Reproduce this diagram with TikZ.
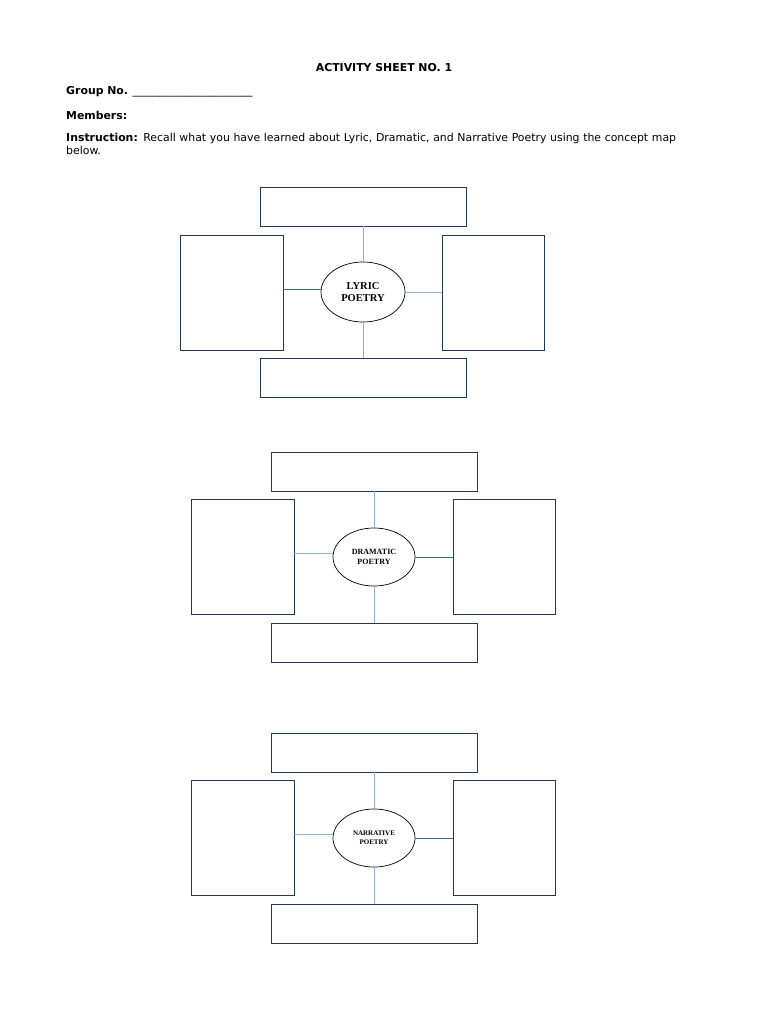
\documentclass[tikz,border=0pt]{standalone}
\usepackage{fontspec}
\setmainfont{DejaVu Sans}
\newfontfamily\serifbold{Liberation Serif}
\usetikzlibrary{shapes.geometric}
\definecolor{boxc}{HTML}{1F3A56}
\definecolor{lightl}{HTML}{8FB3C8}
\definecolor{darkl}{HTML}{3E6F96}
\tikzset{
  cbox/.style={draw=boxc,line width=0.9pt,rectangle,inner sep=0pt},
  cell/.style={draw=black,line width=0.7pt,ellipse,inner sep=0pt,align=center,font=\serifbold\bfseries},
  vl/.style={draw=lightl,line width=0.9pt},
  hl/.style={draw=lightl,line width=0.9pt},
  hd/.style={draw=darkl,line width=0.9pt},
  txt/.style={anchor=west,inner sep=0pt,font=\fontsize{10.9}{12}\selectfont}
}
\begin{document}
\begin{tikzpicture}[x=1pt,y=-1pt]
\useasboundingbox[fill=white] (0,0) rectangle (768,1024);
\node[inner sep=0pt,font=\fontsize{10.9}{12}\selectfont\bfseries] (title) at (384,68) {ACTIVITY SHEET NO. 1};
\node[txt] (grp) at (66,92) {\textbf{Group No.} \_\_\_\_\_\_\_\_\_\_\_\_\_\_\_\_\_\_\_\_\_\_};
\node[txt] (mem) at (66,115) {\textbf{Members:}};
\node[txt,text width=625pt,align=left,anchor=north west,font=\fontsize{10.9}{13}\selectfont] (ins) at (66,133) {\textbf{Instruction:} Recall what you have learned about Lyric, Dramatic, and Narrative Poetry using the concept map below.};
\newcommand{\cmap}[5]{%
  \node[cbox,minimum width=206pt,minimum height=39pt] (t#5) at (363+#1,#2) {};
  \node[cbox,minimum width=103pt,minimum height=115pt] (l#5) at (231.5+#1,#3) {};
  \node[cbox,minimum width=102pt,minimum height=115pt] (r#5) at (493+#1,#3) {};
  \node[cbox,minimum width=206pt,minimum height=39pt] (b#5) at (363+#1,#4) {};
}
\cmap{0}{206.5}{292.5}{377.5}{A}
\node[cell,minimum width=84pt,minimum height=60pt,font=\serifbold\bfseries\fontsize{10.5}{12}\selectfont] (eA) at (363,292) {LYRIC\\POETRY};
\draw[vl] (tA.south) -- (eA.north);
\draw[vl] (eA.south) -- (bA.north);
\draw[hd] (lA.east |- 0,289) coordinate (la) -- (la -| eA.west);
\draw[hl] (eA.east) -- (eA.east -| rA.west);

\cmap{11}{471.5}{556.5}{643}{B}
\node[cell,minimum width=82pt,minimum height=58pt,font=\serifbold\bfseries\fontsize{8}{10}\selectfont] (eB) at (374,557) {DRAMATIC\\POETRY};
\draw[vl] (tB.south) -- (eB.north);
\draw[vl] (eB.south) -- (bB.north);
\draw[hl] (lB.east |- 0,553) coordinate (lb) -- (lb -| eB.west);
\draw[hd] (eB.east) -- (eB.east -| rB.west);

\cmap{11}{752.5}{837.5}{923.5}{C}
\node[cell,minimum width=82pt,minimum height=58pt,font=\serifbold\bfseries\fontsize{7}{9}\selectfont] (eC) at (374,838) {NARRATIVE\\POETRY};
\draw[vl] (tC.south) -- (eC.north);
\draw[vl] (eC.south) -- (bC.north);
\draw[hl] (lC.east |- 0,834) coordinate (lc) -- (lc -| eC.west);
\draw[hd] (eC.east) -- (eC.east -| rC.west);
\end{tikzpicture}
\end{document}
